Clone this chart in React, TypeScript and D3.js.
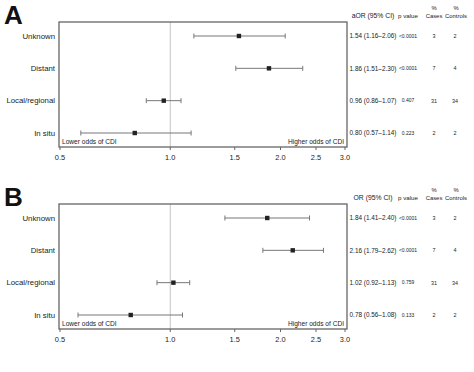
import React from 'react';
import * as d3 from 'd3';

const categories = ['Unknown', 'Distant', 'Local/regional', 'In situ'];

const orA = [1.54, 1.86, 0.96, 0.80];
const loA = [1.16, 1.51, 0.86, 0.57];
const hiA = [2.06, 2.30, 1.07, 1.14];
const pA = ['<0.0001', '<0.0001', '0.407', '0.223'];

const orB = [1.84, 2.16, 1.02, 0.78];
const loB = [1.41, 1.79, 0.92, 0.56];
const hiB = [2.40, 2.62, 1.13, 1.08];
const pB = ['<0.0001', '<0.0001', '0.759', '0.133'];

const casesPct = ['3', '7', '31', '2'];
const controlsPct = ['2', '4', '34', '2'];

const xTicks = [0.5, 1.0, 1.5, 2.0, 2.5, 3.0];

const W = 474;
const H = 372;
const FONT = '"Liberation Sans", Arial, sans-serif';

const fmt = (v: number) => v.toFixed(2);

type PanelProps = {
  letter: string;
  top: number;
  estLabel: string;
  est: number[];
  lo: number[];
  hi: number[];
  p: string[];
};

const Panel: React.FC<PanelProps> = ({ letter, top, estLabel, est, lo, hi, p }) => {
  const frameTop = top;
  const frameBottom = top + 125;
  const x = d3.scaleLog().domain([0.5, 3.0]).range([60, 345]);
  const y = d3.scalePoint<string>().domain(categories).range([top + 14, top + 111]);

  const colCI = 373;
  const colP = 408;
  const colCases = 434;
  const colControls = 455;

  return (
    <g fontFamily={FONT}>
      <text x={4} y={top + 2} fontSize={26} fontWeight="bold" fill="#111">{letter}</text>

      {/* reference line at 1 */}
      <line x1={x(1)} x2={x(1)} y1={frameTop} y2={frameBottom} stroke="#c4c4c4" strokeWidth={1} />

      {/* frame */}
      <rect x={59} y={frameTop} width={288} height={frameBottom - frameTop} fill="none" stroke="#666" strokeWidth={1.3} />

      {/* x ticks */}
      {xTicks.map(t => (
        <g key={t}>
          <line x1={x(t)} x2={x(t)} y1={frameBottom} y2={frameBottom + 3} stroke="#666" strokeWidth={1} />
          <text x={x(t)} y={frameBottom + 13} fontSize={7.4} textAnchor="middle" fill="#222">{t.toFixed(1)}</text>
        </g>
      ))}

      <text x={62} y={frameBottom - 3} fontSize={6.6} fill="#222">Lower odds of CDI</text>
      <text x={344} y={frameBottom - 3} fontSize={6.6} textAnchor="end" fill="#222">Higher odds of CDI</text>

      {/* rows */}
      {categories.map((c, i) => {
        const cy = y(c) as number;
        return (
          <g key={c}>
            <text x={55} y={cy} dy="0.35em" fontSize={7.8} textAnchor="end" fill="#222">{c}</text>
            <line x1={x(lo[i])} x2={x(hi[i])} y1={cy} y2={cy} stroke="#777" strokeWidth={1} />
            <line x1={x(lo[i])} x2={x(lo[i])} y1={cy - 2.5} y2={cy + 2.5} stroke="#777" strokeWidth={1} />
            <line x1={x(hi[i])} x2={x(hi[i])} y1={cy - 2.5} y2={cy + 2.5} stroke="#777" strokeWidth={1} />
            <rect x={x(est[i]) - 2.2} y={cy - 2.2} width={4.4} height={4.4} fill="#222" />
            <text x={colCI} y={cy} dy="0.35em" fontSize={6.4} textAnchor="middle" fill="#222">
              {`${fmt(est[i])} (${fmt(lo[i])}\u2013${fmt(hi[i])})`}
            </text>
            <text x={colP} y={cy} dy="0.35em" fontSize={5} textAnchor="middle" fill="#222">{p[i]}</text>
            <text x={colCases} y={cy} dy="0.35em" fontSize={5.4} textAnchor="middle" fill="#222">{casesPct[i]}</text>
            <text x={colControls} y={cy} dy="0.35em" fontSize={5.4} textAnchor="middle" fill="#222">{controlsPct[i]}</text>
          </g>
        );
      })}

      {/* table header */}
      <text x={colCI} y={top - 4} fontSize={6.8} textAnchor="middle" fill="#222">{estLabel}</text>
      <text x={colP} y={top - 4} fontSize={6.2} textAnchor="middle" fill="#222">p value</text>
      <text x={colCases} y={top - 12} fontSize={5.8} textAnchor="middle" fill="#222">%</text>
      <text x={colCases} y={top - 4} fontSize={5.9} textAnchor="middle" fill="#222">Cases</text>
      <text x={colControls + 1} y={top - 12} fontSize={5.8} textAnchor="middle" fill="#222">%</text>
      <text x={colControls + 1} y={top - 4} fontSize={5.9} textAnchor="middle" fill="#222">Controls</text>
    </g>
  );
};

const App: React.FC = () => {
  return (
    <svg width={W} height={H} style={{ position: 'absolute', left: 0, top: 0, background: '#fff' }}>
      <Panel letter="A" top={22} estLabel="aOR (95% CI)" est={orA} lo={loA} hi={hiA} p={pA} />
      <Panel letter="B" top={204} estLabel="OR (95% CI)" est={orB} lo={loB} hi={hiB} p={pB} />
    </svg>
  );
};

export default App;
